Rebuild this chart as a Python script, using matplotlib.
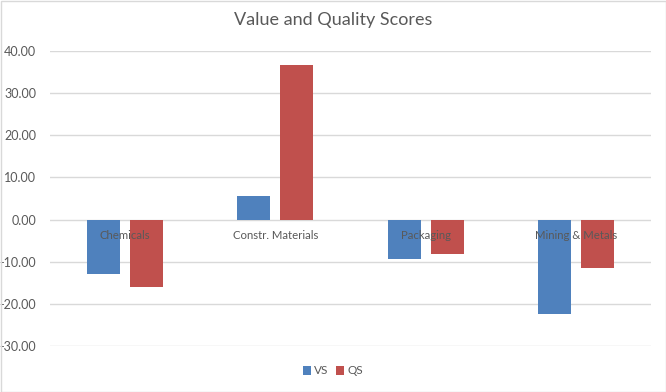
import matplotlib.pyplot as plt
import numpy as np
from matplotlib.patches import Rectangle

categories = ["Chemicals", "Constr. Materials", "Packaging", "Mining & Metals"]
vs = [-12.8, 5.55, -9.45, -22.5]
qs = [-15.9, 36.7, -8.25, -11.6]
yticks = [-30, -20, -10, 0, 10, 20, 30, 40]

plt.rcParams['font.family'] = ['Lato', 'DejaVu Sans']
grey = '#595959'

fig = plt.figure(figsize=(6.66, 3.92), dpi=100)
ax = fig.add_axes([50/666, 1-346/392, 601/666, 295/392])

x = np.arange(len(categories))
w = 0.22
ax.bar(x - 0.143, vs, w, color='#4F81BD', label='VS', zorder=3)
ax.bar(x + 0.143, qs, w, color='#C0504D', label='QS', zorder=3)

ax.set_xlim(-0.5, len(categories) - 0.5)
ax.set_ylim(-30, 40)
ax.set_yticks(yticks)
ax.set_yticklabels(["%.2f" % t for t in yticks], color=grey, fontsize=9)
ax.tick_params(axis='y', length=0, pad=10)
ax.set_xticks([])
ax.grid(axis='y', color='#D9D9D9', linewidth=1, zorder=0)
for s in ax.spines.values():
    s.set_visible(False)

# category names sit just under the zero line
for i, c in enumerate(categories):
    ax.annotate(c, (i, 0), xytext=(0, -16), textcoords='offset pixels',
                ha='center', va='center', color=grey, fontsize=8.2, zorder=4)

fig.text(0.5, 1-20/392, "Value and Quality Scores", ha='center', va='center',
         color=grey, fontsize=13)

fig.legend(loc='center', bbox_to_anchor=(0.5, 1-371/392), ncol=2, frameon=False,
           fontsize=8.5, handlelength=0.7, handleheight=0.7, handletextpad=0.3,
           columnspacing=0.6, labelcolor=grey)

fig.patches.append(Rectangle((0.5/666, 0.5/392), 665/666, 391/392, transform=fig.transFigure,
                             fill=False, edgecolor='#D9D9D9', linewidth=1))

fig.savefig('out.png', dpi=100)
